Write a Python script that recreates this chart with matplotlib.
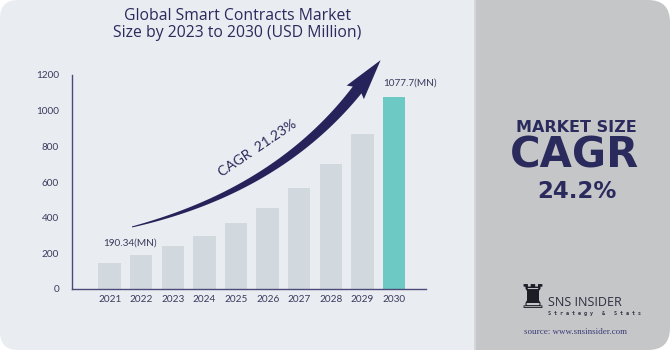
import numpy as np
import matplotlib
matplotlib.use("Agg")
import matplotlib.pyplot as plt
from matplotlib.patches import FancyBboxPatch, Rectangle, Polygon

# data
years = ['2021', '2022', '2023', '2024', '2025', '2026', '2027', '2028', '2029', '2030']
market_size = [145, 190.34, 240, 298, 368, 457, 567, 700, 870, 1077.7]
y_ticks = [0, 200, 400, 600, 800, 1000, 1200]
first_label = "190.34(MN)"
last_label = "1077.7(MN)"
arrow_text = "CAGR  21.23%"
title = "Global Smart Contracts Market\nSize by 2023 to 2030 (USD Million)"
side_head = "MARKET SIZE"
side_big = "CAGR"
side_value = "24.2%"

navy = '#2b2a5c'
txt = '#3b3b5c'
light_bg = '#e9ecf1'
side_bg = '#c5c6c8'
bar_gray = '#d1d8de'
bar_teal = '#6dc9c3'

W, H = 6.7, 3.5
fig = plt.figure(figsize=(W, H), dpi=100)
fig.patch.set_facecolor('white')

def fx(px):
    return px / 670

def fy(py):
    return 1 - py / 350

# background panels (inches)
bg = FancyBboxPatch((0, 0), 5.0, H, boxstyle="round,pad=0,rounding_size=0.18",
                    fc=light_bg, ec='none', transform=fig.dpi_scale_trans, zorder=-10)
fig.add_artist(bg)
side = FancyBboxPatch((4.74, 0), W - 4.74, H, boxstyle="round,pad=0,rounding_size=0.22",
                      fc=side_bg, ec='none', transform=fig.dpi_scale_trans, zorder=-9)
fig.add_artist(side)
fig.add_artist(Rectangle((4.74, 0), 0.4, H, fc=side_bg, ec='none',
                         transform=fig.dpi_scale_trans, zorder=-9))
fig.add_artist(Rectangle((4.735, 0), 0.02, H, fc='#d5d6d9', ec='none',
                         transform=fig.dpi_scale_trans, zorder=-8))

# chart
ax = fig.add_axes([fx(71.7), 61 / 350, (425.7 - 71.7) / 670, 214 / 350])
ax.set_facecolor('none')
x = np.arange(len(years))
colors = [bar_gray] * (len(years) - 1) + [bar_teal]
ax.bar(x, market_size, width=0.71, color=colors, zorder=2)
ax.set_xlim(-1.2, 10.0)
ax.set_ylim(0, 1200)
ax.set_xticks(x, years)
ax.set_yticks(y_ticks)
for s in ['top', 'right']:
    ax.spines[s].set_visible(False)
for s in ['left', 'bottom']:
    ax.spines[s].set_color('#4b4a78')
    ax.spines[s].set_linewidth(1.0)
ax.tick_params(axis='x', length=0, pad=4, labelsize=7.2, labelcolor=txt)
ax.tick_params(axis='y', length=0, pad=9, labelsize=7.2, labelcolor=txt)
for lab in ax.get_xticklabels() + ax.get_yticklabels():
    lab.set_family('Lato')

ax.text(-0.215, 258, first_label, fontsize=7.2, family='Lato', color=txt,
        ha='left', va='center')
ax.text(8.655, 1155, last_label, fontsize=7.2, family='Lato', color=txt,
        ha='left', va='center', clip_on=False)

# curved tapered arrow
arrow_path_data = np.array([[0.71, 348], [2.86, 443], [5.71, 639], [7.83, 1116]])
P = ax.transData.transform(arrow_path_data)
t = np.linspace(0, 1, 120)[:, None]
B = (1 - t)**3 * P[0] + 3 * (1 - t)**2 * t * P[1] + 3 * (1 - t) * t**2 * P[2] + t**3 * P[3]
dB = 3 * (1 - t)**2 * (P[1] - P[0]) + 6 * (1 - t) * t * (P[2] - P[1]) + 3 * t**2 * (P[3] - P[2])
tan = dB / np.linalg.norm(dB, axis=1, keepdims=True)
nrm = np.column_stack([-tan[:, 1], tan[:, 0]])
hw = 0.5 + 5.0 * t
left = B + nrm * hw
right = B - nrm * hw
d, n, e = tan[-1], nrm[-1], B[-1]
head = [e + 11 * n - 3 * d, e + 38 * d, e - 11 * n - 3 * d]
verts = np.vstack([left, head, right[::-1]])
verts = ax.transData.inverted().transform(verts)
ax.add_patch(Polygon(verts, closed=True, fc='#26235a', ec='none', clip_on=False, zorder=5))

ax.text(4.68, 789, arrow_text, fontsize=10, family='Lato', color=navy,
        rotation=34, rotation_mode='anchor', ha='center', va='center')

# title
fig.text(fx(237), fy(24.5), title, fontsize=11.3, family='Open Sans', color=navy,
         ha='center', va='center', linespacing=1.15)

# right panel
fig.text(fx(576), fy(128), side_head, fontsize=11.5, weight='bold', color=navy,
         ha='center', va='center', family='DejaVu Sans')
fig.text(fx(574), fy(156), side_big, fontsize=30, weight='bold', color=navy,
         ha='center', va='center', family='DejaVu Sans')
fig.text(fx(577), fy(191), side_value, fontsize=16.5, weight='bold', color=navy,
         ha='center', va='center', family='DejaVu Sans')

# logo
fig.text(fx(532), fy(298), '\u265C', fontsize=24, color='#1d1d26',
         ha='center', va='center', family='DejaVu Sans')
fig.text(fx(548), fy(303), 'SNS INSIDER', fontsize=9, color='#2e2e40',
         ha='left', va='center', family='Open Sans')
fig.text(fx(548), fy(313.5), 'S t r a t e g y   &   S t a t s', fontsize=3.6,
         color='#2e2e40', ha='left', va='center', family='DejaVu Sans Mono', weight='bold')
fig.text(fx(575), fy(331.5), 'source: www.snsinsider.com', fontsize=6.5, color='#3b3b7a',
         ha='center', va='center', family='Liberation Serif')

fig.savefig('out.png', dpi=100)
